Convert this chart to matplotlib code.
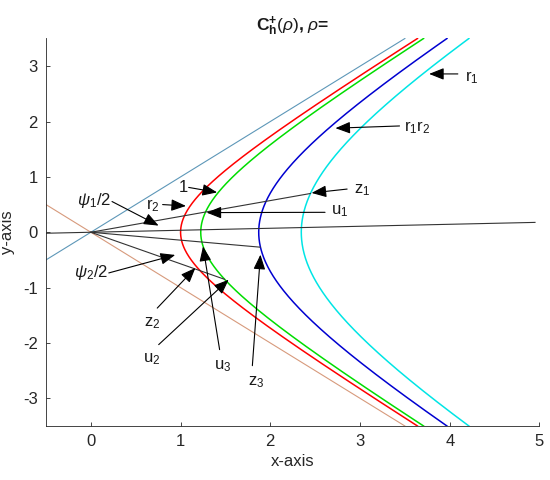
import matplotlib
matplotlib.use("Agg")
import matplotlib.pyplot as plt
import numpy as np

plt.rcParams["font.family"] = ["Liberation Sans", "DejaVu Sans"]
plt.rcParams["mathtext.fontset"] = "custom"
plt.rcParams["mathtext.rm"] = "Liberation Sans"
plt.rcParams["mathtext.it"] = "Liberation Sans:italic"
plt.rcParams["mathtext.bf"] = "Liberation Sans:bold"
plt.rcParams["axes.unicode_minus"] = False

# hyperbolas x^2 - y^2 = a^2 (vertex at a), one per rho value
vertex_sq = [1.0, 1.5, 3.5, 5.5]
curve_colors = ["#ff0000", "#00dd00", "#0000d0", "#00e5e5"]
Y_MAX = 3.5

# asymptotes y = +x and y = -x
asym_x = [-0.5, 3.5]
asym_slopes = [1.0, -1.0]
asym_colors = ["#5d97b8", "#d79a7c"]

# black rays from the origin (end points)
ray_start = [(-0.5, -0.018), (0.0, 0.0), (0.0, 0.0), (0.0, 0.0)]
ray_end = [(4.95, 0.178), (2.447, 0.70), (1.89, -0.27), (1.49, -0.85)]

# text arrows: label, text position (left, baseline), arrow tail, arrow tip
labels = ["r$_1$", "r$_1$r$_2$", "z$_1$", "u$_1$", "1", "r$_2$",
          r"$\psi_1$/2", r"$\psi_2$/2", "z$_2$", "u$_2$", "u$_3$", "z$_3$"]
text_pos = [(4.17, 2.73), (3.49, 1.82), (2.93, 0.71), (2.68, 0.32), (0.98, 0.73), (0.62, 0.41),
            (-0.15, 0.50), (-0.19, -0.80), (0.59, -1.70), (0.58, -2.35), (1.37, -2.48), (1.75, -2.77)]
arrow_tail = [(4.09, 2.86), (3.44, 1.92), (2.856, 0.78), (2.61, 0.36), (1.09, 0.81), (0.80, 0.50),
              (0.236, 0.555), (0.20, -0.735), (0.74, -1.37), (0.756, -2.03), (1.435, -2.12), (1.80, -2.41)]
arrow_tip = [(3.77, 2.86), (2.726, 1.88), (2.46, 0.71), (1.29, 0.355), (1.407, 0.72), (1.06, 0.475),
             (0.755, 0.12), (0.94, -0.41), (1.165, -0.645), (1.536, -0.857), (1.25, -0.256), (1.89, -0.405)]

x_ticks = [0, 1, 2, 3, 4, 5]
y_ticks = [-3, -2, -1, 0, 1, 2, 3]

fig = plt.figure(figsize=(5.5, 4.8), dpi=100)
ax = fig.add_axes([0.0836, 0.1125, 0.8973, 0.8073])

for a_sq, color in zip(vertex_sq, curve_colors):
    a = np.sqrt(a_sq)
    t = np.linspace(-np.arcsinh(Y_MAX / a), np.arcsinh(Y_MAX / a), 400)
    ax.plot(a * np.cosh(t), a * np.sinh(t), color=color, lw=1.1)

for slope, color in zip(asym_slopes, asym_colors):
    xs = np.array(asym_x)
    ax.plot(xs, slope * xs, color=color, lw=0.8)

for (x0, y0), (x1, y1) in zip(ray_start, ray_end):
    ax.plot([x0, x1], [y0, y1], color="#333333", lw=0.8)

for label, (tx, ty), tail, tip in zip(labels, text_pos, arrow_tail, arrow_tip):
    ax.annotate("", xy=tip, xytext=tail,
                arrowprops=dict(arrowstyle="-|>,head_length=0.6,head_width=0.24",
                                color="black", lw=0.8, shrinkA=0, shrinkB=0,
                                mutation_scale=15))
    ax.text(tx, ty, label, fontsize=12, ha="left", va="baseline", color="#1a1a1a")

ax.set_xlim(-0.5, 5)
ax.set_ylim(-3.5, 3.5)
ax.set_xticks(x_ticks)
ax.set_yticks(y_ticks)
ax.tick_params(direction="in", length=3, width=0.6, colors="#262626", labelsize=12, pad=6)
for side in ("top", "right"):
    ax.spines[side].set_visible(False)
for side in ("left", "bottom"):
    ax.spines[side].set_color("#262626")
    ax.spines[side].set_linewidth(0.6)

ax.set_xlabel("x-axis", fontsize=12, color="#262626")
ax.set_ylabel("y-axis", fontsize=12, color="#262626")
ax.xaxis.set_label_coords(0.5, -0.072)
ax.yaxis.set_label_coords(-0.062, 0.5)
ax.set_title(r"$\mathbf{C}_{\mathbf{h}}^{\mathbf{+}}(\rho)$, $\rho$=", fontsize=12.5,
             fontweight="bold", color="#1a1a1a", pad=5)

fig.savefig("out.png", dpi=100)
